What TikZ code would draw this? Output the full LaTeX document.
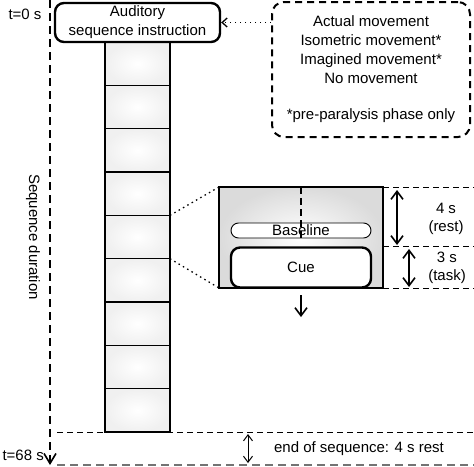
\documentclass[tikz,border=0pt]{standalone}
\usepackage{fontspec}
\setmainfont{Liberation Sans}
\usetikzlibrary{positioning,arrows.meta,calc}

\tikzset{
  seqslot/.style={draw, line width=1.2pt, inner color=white, outer color=gray!12,
    minimum width=65pt, minimum height=43.33pt, inner sep=0pt, outer sep=0pt},
  instrbox/.style={draw, line width=2.4pt, rounded corners=9pt, fill=white,
    minimum width=165pt, minimum height=39pt, align=center, inner sep=0pt},
  condbox/.style={draw, line width=2pt, dash pattern=on 7pt off 5pt, rounded corners=12pt,
    minimum width=198pt, minimum height=135pt, align=center},
  zoombox/.style={draw, line width=1.3pt, inner color=white, outer color=gray!28,
    minimum width=164pt, minimum height=101pt, outer sep=0pt},
  basepill/.style={draw, line width=0.9pt, fill=white, rounded corners=7.5pt,
    minimum width=140pt, minimum height=15pt, inner sep=0pt},
  cuebox/.style={draw, line width=2.4pt, fill=white, rounded corners=9pt,
    minimum width=140pt, minimum height=40pt},
  guide/.style={line width=0.9pt, dash pattern=on 6pt off 4pt},
  dotlink/.style={line width=1.3pt, dash pattern=on 1.5pt off 3.5pt},
  dimarrow/.style={line width=1.6pt,
    {Straight Barb[length=8pt,width=12pt]}-{Straight Barb[length=8pt,width=12pt]}},
}

\begin{document}
\begin{tikzpicture}[x=1pt, y=-1pt, font=\fontsize{15}{19}\selectfont]
    \useasboundingbox (0,0) rectangle (474,466);
    % Time axis
    \coordinate (t0) at (50,0);
    \coordinate (tend) at (50,465);
    \draw[line width=1.6pt, dash pattern=on 8pt off 5pt,
      -{Straight Barb[length=10pt,width=12pt]}] (t0) -- (tend);
    \node[anchor=center] (start) at (25,14) {t=0 s};
    \node[anchor=east, inner sep=1pt] (stop) at (45,455) {t=68 s};
    \node[rotate=-90] (dur) at (33,237) {Sequence duration};
    % Sequence of trials
    \node[seqslot] (b1) at (137.5,63.7) {};
    \foreach \i [remember=\i as \j (initially 1)] in {2,...,9}
        \node[seqslot, below=0pt of b\j] (b\i) {};
    \node[instrbox] (instr) at (137.5,22.5) {Auditory\\sequence instruction};
    % Conditions
    \node[condbox] (cond) at (371,69.5)
      {Actual movement\\Isometric movement*\\Imagined movement*\\No movement\\[17pt]*pre-paralysis phase only};
    \draw[dotlink, -{Straight Barb[length=5pt,width=9pt]}] (cond.west |- instr.east) -- (instr.east);
    % Single trial
    \node[zoombox] (zoom) at (301,237.5) {};
    \node[basepill] (base) at (301,230.5) {Baseline};
    \node[cuebox] (cue) at (301,267.5) {Cue};
    \draw[line width=1.6pt, dash pattern=on 7pt off 4pt] (zoom.north) -- (base.south);
    \draw[line width=1.6pt, -{Straight Barb[length=8pt,width=12pt]}]
      ([yshift=-7pt]zoom.south) -- ++(0,22);
    \draw[dotlink] (b5.north east) -- (zoom.north west);
    \draw[dotlink] (b5.south east) -- (zoom.south west);
    % Timing
    \coordinate (rim) at (474,0);
    \draw[guide] (zoom.north east) -- (zoom.north east -| rim);
    \draw[guide] (zoom.east |- cue.north) -- (cue.north -| rim);
    \draw[guide] (zoom.south east) -- (zoom.south east -| rim);
    \coordinate (r1) at (397,190);
    \coordinate (r2) at (397,245);
    \coordinate (k1) at (409,249);
    \coordinate (k2) at (409,287);
    \draw[dimarrow] (r1) -- (r2);
    \draw[dimarrow] (k1) -- (k2);
    \node[align=center] (rest) at (446,219) {4 s\\[-1pt](rest)};
    \node[align=center] (task) at (447,268) {3 s\\[-1pt](task)};
    % End of sequence
    \coordinate (e1) at (57,432);
    \coordinate (e2) at (57,465);
    \draw[guide] (e1) -- (e1 -| rim);
    \draw[line width=2pt, dash pattern=on 8pt off 5pt, black!55] (e2) -- (e2 -| rim);
    \draw[line width=1pt, {Straight Barb[length=6pt,width=9pt]}-{Straight Barb[length=6pt,width=9pt]}]
      (248,434) -- (248,463);
    \node (final) at (359,449) {end of sequence: 4 s rest};
\end{tikzpicture}
\end{document}
